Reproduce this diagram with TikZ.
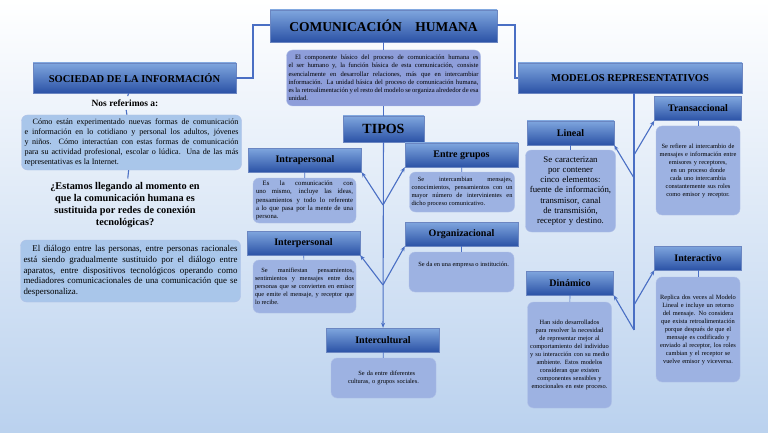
\documentclass[tikz,border=0pt]{standalone}
\usepackage{fontspec}
\setmainfont{Liberation Serif}
\usetikzlibrary{arrows.meta}
\hyphenpenalty=10000 \exhyphenpenalty=10000 \tolerance=9999 \emergencystretch=20pt
\definecolor{hdark}{HTML}{2B52A6}
\definecolor{hlight}{HTML}{7FA6DE}
\definecolor{tbox}{HTML}{9DB2E2}
\definecolor{lbox}{HTML}{A9C6EA}
\definecolor{cbox}{HTML}{8E9EDA}
\definecolor{lnc}{HTML}{4A6FC4}
\begin{document}
\begin{tikzpicture}[x=1pt,y=-1pt,
 hdr/.style={draw=hdark!70,top color=hlight,bottom color=hdark,font=\bfseries,inner sep=0pt,text=black},
 tb/.style={fill=tbox,draw=tbox!80!white,rounded corners=6pt,inner sep=3pt,align=justify},
 ln/.style={draw=lnc,line width=1.1pt},
 ar/.style={ln,-{Stealth[length=5pt,width=4pt]}},
 sm/.style={font=\fontsize{6.4}{8}\selectfont}]
\fill[top color=white,bottom color=lbox!80!white] (0,0) rectangle (768,433);
\useasboundingbox (0,0) rectangle (768,433);
% title & central
\node[hdr,minimum width=227,minimum height=32,font=\bfseries\fontsize{13.5}{15}\selectfont] (tit) at (383.5,26) {COMUNICACIÓN\quad HUMANA};
\node[tb,fill=cbox,font=\fontsize{6.6}{8.3}\selectfont,text width=190,minimum height=56,inner sep=2pt] (cen) at (383.5,78) {\hspace*{1em}El componente básico del proceso de comunicación humana es el ser humano y, la función básica de esta comunicación, consiste esencialmente en desarrollar relaciones, más que en intercambiar información. La unidad básica del proceso de comunicación humana, es la retroalimentación y el resto del modelo se organiza alrededor de esa unidad.};
\node[hdr,minimum width=81,minimum height=26,font=\bfseries\fontsize{14}{16}\selectfont] (tip) at (383.5,129) {TIPOS};
\draw[ln] (tit) -- (cen) (cen) -- (tip);
% left side
\node[hdr,minimum width=203,minimum height=30,font=\bfseries\fontsize{10.5}{12}\selectfont] (soc) at (134.5,78) {SOCIEDAD DE LA INFORMACIÓN};
\node[hdr,minimum width=224,minimum height=30,font=\bfseries\fontsize{10.5}{12}\selectfont] (mod) at (630,78) {MODELOS REPRESENTATIVOS};
\coordinate (c1) at (253,78); \coordinate (c2) at (253,25);
\coordinate (c3) at (515,25); \coordinate (c4) at (515,78);
\draw[ln] (soc.east) -- (c1) -- (c2) -- (tit.west|-c2);
\draw[ln] (tit.east|-c3) -- (c3) -- (c4) -- (mod.west);
\node[font=\bfseries\fontsize{9.5}{11}\selectfont] (nos) at (125,103) {Nos referimos a:};
\node[tb,fill=lbox,font=\fontsize{8.1}{9.8}\selectfont,text width=214,minimum height=55] (b1) at (131.5,142.5) {\hspace*{1em}Cómo están experimentado nuevas formas de comunicación e información en lo cotidiano y personal los adultos, jóvenes y niños. Cómo interactúan con estas formas de comunicación para su actividad profesional, escolar o lúdica. Una de las más representativas es la Internet.};
\node[font=\bfseries\fontsize{10.3}{12.2}\selectfont,align=center] (q) at (125,205) {¿Estamos llegando al momento en\\que la comunicación humana es\\sustituida por redes de conexión\\tecnológicas?};
\node[tb,fill=lbox,font=\fontsize{8.9}{10.6}\selectfont,text width=214,minimum height=62] (b2) at (130.5,271) {\hspace*{1em}El diálogo entre las personas, entre personas racionales está siendo gradualmente sustituido por el diálogo entre aparatos, entre dispositivos tecnológicos operando como mediadores comunicacionales de una comunicación que se despersonaliza.};
\draw[ln] (soc) -- (nos) (nos) -- (b1) (b1) -- (q);
% tipos
\tikzset{th/.style={hdr,minimum width=113,minimum height=24,font=\bfseries\fontsize{10}{12}\selectfont}}
\node[th] (intra) at (305,160) {Intrapersonal};
\node[tb,font=\fontsize{6.7}{8.2}\selectfont,text width=97,minimum height=45,inner sep=3pt] (intrat) at (304.5,200.5) {\hspace*{1em}Es la comunicación con uno mismo, incluye las ideas, pensamientos y todo lo referente a lo que pasa por la mente de una persona.};
\node[th] (entre) at (461.5,155) {Entre grupos};
\node[tb,sm,text width=101,minimum height=40,inner sep=2pt] (entret) at (462,192) {\hspace*{1em}Se intercambian mensajes, conocimientos, pensamientos con un mayor número de intervinientes en dicho proceso comunicativo.};
\node[th] (inter) at (303.5,243) {Interpersonal};
\node[tb,sm,text width=99,minimum height=53,inner sep=2pt] (intert) at (304.5,286.5) {\hspace*{1em}Se manifiestan pensamientos, sentimientos y mensajes entre dos personas que se convierten en emisor que emite el mensaje, y receptor que lo recibe.};
\node[th] (org) at (461.5,234) {Organizacional};
\node[tb,sm,text width=99,minimum height=40] (orgt) at (461.5,272) {\hspace*{1em}Se da en una empresa o institución.\\[8pt]};
\node[th] (icul) at (383,340) {Intercultural};
\node[tb,sm,text width=99,minimum height=40,align=center] (icult) at (383.5,378) {\hspace*{1em}Se da entre diferentes\\culturas, o grupos sociales.};
\foreach \h/\t in {intra/intrat,entre/entret,inter/intert,org/orgt,icul/icult} \draw[ln,line width=0.7pt] (\h) -- (\t);
\coordinate (j1) at (383,205); \coordinate (j2) at (383,285);
\draw[ar] (tip) -- (icul);
\draw[ar] (j1) -- (intra.south east);
\draw[ar] (j1) -- (entre.south west);
\draw[ar] (j2) -- (inter.south east);
\draw[ar] (j2) -- (org.south west);
% modelos
\tikzset{mh/.style={hdr,minimum width=87,minimum height=24,font=\bfseries\fontsize{10}{12}\selectfont},
 mt/.style={tb,align=center,inner sep=2pt}}
\node[mh] (lin) at (570.5,133) {Lineal};
\node[mt,font=\fontsize{8.8}{10.2}\selectfont,text width=86,minimum height=82] (lint) at (570.5,191) {Se caracterizan por contener cinco elementos:\\fuente de información, transmisor, canal de transmisión, receptor y destino.};
\node[mh] (tra) at (698,108.5) {Transaccional};
\node[mt,sm,text width=80,minimum height=89] (trat) at (698,170.5) {Se refiere al intercambio de mensajes e información entre emisores y receptores, en un proceso donde cada uno intercambia constantemente sus roles como emisor y receptor.};
\node[mh] (din) at (570,283) {Dinámico};
\node[mt,sm,text width=80,minimum height=106] (dint) at (569.5,355) {Han sido desarrollados para resolver la necesidad de representar mejor al comportamiento del individuo y su interacción con su medio ambiente. Estos modelos consideran que existen componentes sensibles y emocionales en este proceso.};
\node[mh] (itv) at (698,258) {Interactivo};
\node[mt,sm,text width=80,minimum height=105] (itvt) at (698,329.5) {Replica dos veces al Modelo Lineal e incluye un retorno del mensaje. No considera que exista retroalimentación porque después de que el mensaje es codificado y enviado al receptor, los roles cambian y el receptor se vuelve emisor y viceversa.};
\foreach \h/\t in {lin/lint,tra/trat,din/dint,itv/itvt} \draw[ln,line width=0.7pt] (\h) -- (\t);
\coordinate (m0) at (634,330);
\coordinate (k1) at (634,155); \coordinate (k2) at (634,178);
\coordinate (k3) at (634,305);
\draw[ln] (mod.south-|m0) -- (m0);
\draw[ar] (k1) -- (tra.south west);
\draw[ar] (k2) -- (lin.south east);
\draw[ar] (k3) -- (itv.south west);
\draw[ar] (m0) -- (din.south east);
\end{tikzpicture}
\end{document}
